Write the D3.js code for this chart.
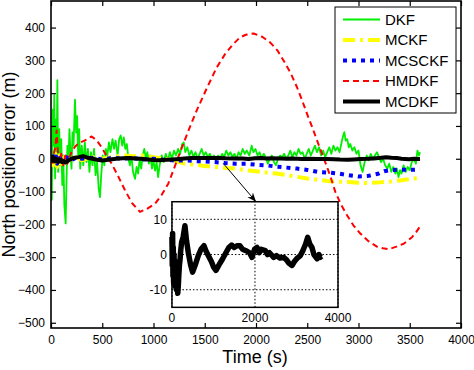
<!DOCTYPE html>
<html><head><meta charset="utf-8">
<script src="https://cdn.jsdelivr.net/npm/d3@7"></script>
<style>body{margin:0;background:#fff}svg{display:block;font-family:"Liberation Sans",Arial,sans-serif}</style>
</head><body><svg id="c" width="474" height="370"></svg>
<script>
// ---- data ----
const seriesNames = ["DKF","MCKF","MCSCKF","HMDKF","MCDKF"];
const xTicks = [0,500,1000,1500,2000,2500,3000,3500,4000];
const yTicks = [-500,-400,-300,-200,-100,0,100,200,300,400];
const insetXTicks = [0,2000,4000];
const insetYTicks = [-10,0,10];

const dkfT = [0,8,16,24,32,40,48,56,62,70,80,90,100,110,120,130,143,152,160,170,180,190,200,210,220,234,245,255,265,275,285,300,315,330,345,360,375,390,405,420,435,450,465,478,490,505,520,535,550,565,580,600,615,630,650,665,680,695,710,725,740,755,770,785,800,820,835,850,865,880,895,910,925,940,955,970,985,1000,1015,1030,1045,1060,1080,1100,1120,1140,1160,1180,1200,1220,1240,1260,1280,1295,1310,1330,1350,1370,1390,1410,1430,1450,1470,1490,1510,1530,1550,1570,1590,1610,1630,1650,1670,1690,1710,1730,1750,1770,1790,1810,1830,1850,1870,1890,1910,1935,1958,1975,1995,2015,2035,2055,2075,2095,2115,2135,2155,2175,2195,2215,2235,2255,2275,2295,2315,2335,2355,2375,2395,2415,2435,2455,2475,2495,2515,2535,2555,2575,2595,2615,2635,2655,2675,2695,2715,2735,2755,2775,2795,2815,2835,2850,2862,2875,2890,2905,2920,2940,2960,2980,3000,3020,3040,3060,3080,3100,3120,3140,3160,3180,3200,3220,3240,3260,3280,3300,3320,3340,3360,3375,3390,3405,3420,3440,3460,3480,3500,3520,3540,3560,3575,3590,3600];
const dkfV = [10,-125,150,40,195,-60,120,20,240,-40,90,-20,60,-80,10,-140,-197,-60,40,-10,90,20,-30,80,40,180,80,130,10,90,-30,40,-20,50,-10,30,-40,20,-20,30,-50,-10,-90,-117,-50,10,-20,30,10,50,20,60,30,55,10,60,71,40,65,30,45,0,-20,10,-40,-61,-25,-45,0,-30,10,30,0,20,-15,10,-30,-5,-36,-10,-56,-20,10,-10,15,-5,20,0,25,10,30,15,45,50,20,35,10,25,5,20,0,15,30,10,20,5,15,0,10,-5,10,0,15,5,25,10,20,5,15,0,20,10,30,15,25,10,40,20,30,10,20,0,15,5,-15,0,10,-10,-20,0,10,5,15,0,10,25,5,20,10,30,15,20,0,15,30,10,25,40,20,35,10,25,5,20,35,15,40,25,35,20,50,70,81,55,60,35,45,25,35,15,25,-20,-40,-10,10,-5,15,0,10,20,5,-10,0,-20,-30,-15,-40,-25,-45,-30,-56,-35,-45,-20,-40,-25,-35,-10,0,-15,25,10,20];

const mckfT = [0,20,40,60,80,100,130,160,200,250,300,350,400,500,600,700,800,900,1000,1100,1200,1300,1400,1500,1600,1700,1800,1900,2000,2100,2200,2300,2400,2500,2600,2700,2800,2900,3000,3100,3200,3300,3400,3500,3600];
const mckfV = [0,-20,15,-25,10,-15,5,-10,0,5,-5,0,5,0,5,10,8,10,5,0,-5,-15,-18,-22,-25,-28,-30,-35,-38,-42,-45,-50,-55,-60,-64,-68,-70,-71,-73,-74,-72,-70,-66,-62,-58];

const mcsckfT = [0,20,40,60,80,100,150,200,250,300,400,500,600,700,800,900,1000,1100,1200,1300,1400,1500,1600,1700,1800,1900,2000,2100,2200,2300,2400,2500,2600,2700,2800,2900,3000,3100,3200,3250,3300,3400,3500,3600];
const mcsckfV = [5,-10,20,-15,10,-5,5,-5,5,0,3,-2,3,0,2,-2,0,-3,-5,-5,-7,-8,-10,-13,-15,-15,-18,-20,-24,-27,-30,-34,-40,-42,-45,-50,-54,-52,-45,-38,-35,-33,-34,-33];

const hmdkfT = [0,15,30,45,55,65,80,100,120,140,160,180,200,230,260,290,332,360,397,430,460,494,540,592,650,722,790,868,940,1015,1080,1144,1200,1259,1340,1421,1520,1616,1700,1779,1844,1900,1977,2060,2140,2210,2270,2340,2400,2450,2498,2550,2595,2645,2693,2730,2774,2830,2888,2950,3018,3100,3180,3240,3294,3370,3441,3480,3522,3560,3597];
const hmdkfV = [5,-20,20,40,86,30,-10,15,-20,10,-15,5,20,35,45,50,56,62,68,60,50,35,10,-15,-50,-96,-135,-162,-152,-137,-110,-76,-30,20,85,147,215,278,320,350,370,378,382,372,354,330,299,260,218,178,137,95,56,15,-25,-58,-101,-140,-172,-203,-228,-252,-268,-273,-276,-268,-259,-250,-239,-225,-208];

const mcdkfT = [0,8,16,24,32,40,50,60,70,80,90,100,110,125,140,152,165,180,193,210,233,270,313,350,393,450,498,560,634,700,771,820,875,950,1000,1060,1130,1222,1300,1370,1438,1500,1566,1639,1700,1800,1870,1928,1990,2048,2100,2150,2249,2300,2350,2450,2520,2600,2691,2760,2820,2892,2950,3020,3093,3150,3220,3270,3320,3373,3420,3494,3540,3574,3600];
const mcdkfV = [5,-3,6,-6,2,-8,0,-5,-9,-2,-8,-4,-10,-7,-11,-9,-6,-3,-1.7,1,3.5,5,8.2,4,0.6,-3,-5,-3,-0.3,1.5,2.5,1,-0.3,-2,-3.5,-4.5,-3,-1.2,0.5,2,2.7,2,2.5,2.5,1.5,1,0.5,-0.8,1.5,2,0.5,1.5,1.1,0,0.5,-0.8,-0.3,-1,-0.8,-1.5,-2.5,-3.1,-2,-1,-0.3,1,3,4.9,3,2,0,-1.2,0,-0.8,-0.5];

// annotation placement in main data units
const insetBoxX = [1180, 2800];
const insetBoxY = [-131, -453];
const arrowFrom = [1680, -14];
const arrowTo = [2000, -131];

// ---- drawing ----
const svg = d3.select("#c");
const x = d3.scaleLinear().domain([0,4000]).range([51,461]);
const y = d3.scaleLinear().domain([-516,481]).range([328,1]);
const L = x.range()[0], R = x.range()[1], T = y.range()[1], B = y.range()[0];
const fmt = d3.format("d");

svg.append("defs").append("clipPath").attr("id","clip")
  .append("rect").attr("x",L).attr("y",T).attr("width",R-L).attr("height",B-T);
svg.select("defs").append("marker").attr("id","arr").attr("viewBox","0 0 10 10")
  .attr("refX",10).attr("refY",5).attr("markerWidth",9).attr("markerHeight",9)
  .attr("orient","auto").append("path").attr("d","M0,1 L10,5 L0,9 L3,5 Z").attr("fill","#000");

const styles = [
  {t:dkfT, v:dkfV, c:"#00ee00", w:1.8, d:null},
  {t:mckfT, v:mckfV, c:"#ffff00", w:4, d:"12,5,3,5"},
  {t:mcsckfT, v:mcsckfV, c:"#0000ff", w:4, d:"4,5"},
  {t:hmdkfT, v:hmdkfV, c:"#ff0000", w:2, d:"6,4"},
  {t:mcdkfT, v:mcdkfV, c:"#000000", w:4, d:null}
];
const g = svg.append("g").attr("clip-path","url(#clip)");
styles.forEach(s=>{
  const line = d3.line().x((d,i)=>x(s.t[i])).y(d=>y(d));
  g.append("path").datum(s.v).attr("d",line).attr("fill","none")
   .attr("stroke",s.c).attr("stroke-width",s.w).attr("stroke-linejoin","round")
   .attr("stroke-dasharray",s.d);
});

// axes
const fs = "12px";
const ax = svg.append("g").attr("transform",`translate(0,${B})`)
  .call(d3.axisBottom(x).tickValues(xTicks).tickFormat(fmt).tickSizeInner(-5).tickSizeOuter(0).tickPadding(7));
const ay = svg.append("g").attr("transform",`translate(${L},0)`)
  .call(d3.axisLeft(y).tickValues(yTicks).tickFormat(fmt).tickSizeInner(-5).tickSizeOuter(0).tickPadding(6));
const axT = svg.append("g").attr("transform",`translate(0,${T})`)
  .call(d3.axisTop(x).tickValues(xTicks).tickSizeInner(-5).tickSizeOuter(0).tickFormat(""));
const ayR = svg.append("g").attr("transform",`translate(${R},0)`)
  .call(d3.axisRight(y).tickValues(yTicks).tickSizeInner(-5).tickSizeOuter(0).tickFormat(""));
[ax,ay,axT,ayR].forEach(a=>{
  a.select(".domain").remove();
  a.selectAll("line").attr("stroke","#000").attr("stroke-width",1.2);
  a.selectAll("text").attr("font-size",fs).attr("fill","#000").attr("font-family","Liberation Sans, Arial, sans-serif");
});
svg.append("rect").attr("x",L).attr("y",T).attr("width",R-L).attr("height",B-T)
  .attr("fill","none").attr("stroke","#000").attr("stroke-width",1.6);

svg.append("text").attr("x",255).attr("y",363).attr("text-anchor","middle")
  .attr("font-size","18px").text("Time (s)");
svg.append("text").attr("transform",`translate(15,${(T+B)/2}) rotate(-90)`)
  .attr("text-anchor","middle").attr("font-size","18px").text("North position error (m)");

// inset
const ix = d3.scaleLinear().domain([0,4000]).range([x(insetBoxX[0]), x(insetBoxX[1])]);
const iy = d3.scaleLinear().domain([-15,15]).range([y(insetBoxY[1]), y(insetBoxY[0])]);
const ig = svg.append("g");
ig.append("rect").attr("x",ix.range()[0]).attr("y",iy.range()[1])
  .attr("width",ix.range()[1]-ix.range()[0]).attr("height",iy.range()[0]-iy.range()[1]).attr("fill","#fff");
ig.selectAll("line.gy").data(insetYTicks).join("line")
  .attr("x1",ix.range()[0]).attr("x2",ix.range()[1]).attr("y1",d=>iy(d)).attr("y2",d=>iy(d))
  .attr("stroke","#000").attr("stroke-width",1).attr("stroke-dasharray","1.5,2");
ig.selectAll("line.gx").data(insetXTicks).join("line")
  .attr("y1",iy.range()[0]).attr("y2",iy.range()[1]).attr("x1",d=>ix(d)).attr("x2",d=>ix(d))
  .attr("stroke","#000").attr("stroke-width",1).attr("stroke-dasharray","1.5,2");
ig.append("path").datum(mcdkfV)
  .attr("d",d3.line().x((d,i)=>ix(mcdkfT[i])).y(d=>iy(d)))
  .attr("fill","none").attr("stroke","#000").attr("stroke-width",5.5).attr("stroke-linejoin","round");
ig.append("rect").attr("x",ix.range()[0]).attr("y",iy.range()[1])
  .attr("width",ix.range()[1]-ix.range()[0]).attr("height",iy.range()[0]-iy.range()[1])
  .attr("fill","none").attr("stroke","#000").attr("stroke-width",1.5);
ig.selectAll("text.ly").data(insetYTicks).join("text")
  .attr("x",ix.range()[0]-5).attr("y",d=>iy(d)).attr("dy","0.35em").attr("text-anchor","end")
  .attr("font-size",fs).text(d=>d);
ig.selectAll("text.lx").data(insetXTicks).join("text")
  .attr("x",d=>ix(d)).attr("y",iy.range()[0]+15).attr("text-anchor","middle")
  .attr("font-size",fs).text(d=>d);

// arrow
svg.append("line").attr("x1",x(arrowFrom[0])).attr("y1",y(arrowFrom[1]))
  .attr("x2",x(arrowTo[0])).attr("y2",y(arrowTo[1]))
  .attr("stroke","#000").attr("stroke-width",1).attr("marker-end","url(#arr)");

// legend
const lg = svg.append("g").attr("transform","translate(335,7)");
lg.append("rect").attr("width",121).attr("height",106).attr("fill","#fff").attr("stroke","#000").attr("stroke-width",1);
styles.forEach((s,i)=>{
  const yy = 12.5 + i*20.5;
  lg.append("line").attr("x1",8).attr("x2",45).attr("y1",yy).attr("y2",yy)
    .attr("stroke",s.c).attr("stroke-width",s.w).attr("stroke-dasharray",s.d);
  lg.append("text").attr("x",50).attr("y",yy).attr("dy","0.36em").attr("font-size","15px").text(seriesNames[i]);
});
</script></body></html>
